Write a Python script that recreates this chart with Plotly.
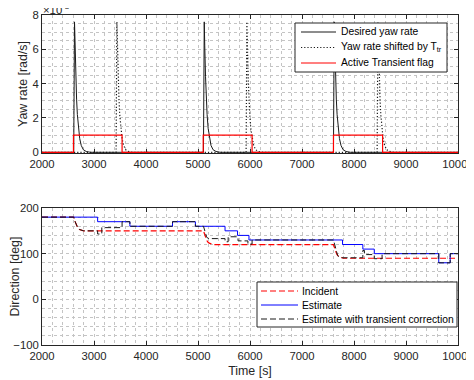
import plotly.graph_objects as go

# ---------------- Top panel data (yaw rate, units of 1e-3 rad/s) ----------------
desired_onsets = [2610, 5105, 7605]          # start of each desired yaw-rate pulse [s]
shifted_onsets = [3425, 5925, 8445]          # same pulse shifted by T_tr [s]
pulse_dt = [0, 15, 25, 40, 55, 70, 90, 115, 145, 185, 240, 320]      # time after onset [s]
pulse_val = [0, 7.6, 6.2, 4.4, 3.1, 2.2, 1.4, 0.8, 0.4, 0.15, 0.05, 0]  # x1e-3 rad/s
flag_t = [2000, 2605, 2605, 3540, 3540, 5100, 5100, 6040, 6040, 7605, 7605, 8550, 8550, 10000]
flag_v = [0, 0, 1, 1, 0, 0, 1, 1, 0, 0, 1, 1, 0, 0]

# ---------------- Bottom panel data (direction, deg) ----------------
incident_t = [2000, 2610, 2630, 2650, 2670, 2690, 2720, 2760, 2800,
              5105, 5125, 5145, 5165, 5185, 5215, 5255, 5300,
              7605, 7625, 7645, 7665, 7685, 7715, 7755, 7800, 10000]
incident_v = [180, 180, 172, 165, 160, 156, 153, 151.5, 150,
              150, 142, 135, 130, 126, 123, 121.5, 120,
              120, 112, 105, 100, 96, 93, 91.5, 90, 90]

estimate_t = [2000, 3070, 3690, 4510, 4950, 5520, 5760, 5980, 7780, 8170, 8390, 9630, 9850, 10000]
estimate_v = [180, 170, 160, 170, 160, 150, 140, 130, 120, 110, 100, 80, 100, 100]

corrected_t = [2000, 2610, 2630, 2650, 2670, 2690, 2720, 2760, 2800, 3070, 3070, 3150, 3150,
               3540, 3540, 3690, 3690, 4510, 4510, 4950, 4950, 5105, 5125, 5145, 5165, 5185,
               5215, 5520, 5520, 5580, 5580, 5770, 5770, 5960, 5960, 6040, 6040, 7605, 7625,
               7645, 7665, 7685, 7715, 7760, 8170, 8170, 8200, 8200, 8390, 8390, 8540, 8540,
               9630, 9630, 9850, 9850, 10000]
corrected_v = [180, 180, 172, 165, 160, 156, 153, 151.5, 150, 150, 143, 143, 157,
               157, 170, 170, 160, 160, 170, 170, 160, 160, 150, 142, 137, 134,
               133, 133, 126, 126, 137, 137, 128, 128, 121, 121, 130, 130, 122,
               110, 101, 96, 93, 91, 91, 107, 107, 98, 98, 89, 89, 100,
               100, 80, 80, 100, 100]

x_ticks = [2000, 3000, 4000, 5000, 6000, 7000, 8000, 9000, 10000]
x_tick_labels = ["2000", "3000", "4000", "5000", "6000", "7000", "8000", "9000", "10000"]
top_y_ticks = [0, 2, 4, 6, 8]
bot_y_ticks = [-100, 0, 100, 200]

top_legend_labels = ["Desired yaw rate", "Yaw rate shifted by T<sub>tr</sub>", "Active Transient flag"]
bot_legend_labels = ["Incident", "Estimate", "Estimate with transient correction"]


def pulses(onsets):
    t, v = [2000], [0]
    for t0 in onsets:
        t += [t0 + d for d in pulse_dt]
        v += pulse_val
    t.append(10000)
    v.append(0)
    return t, v


des_t, des_v = pulses(desired_onsets)
sh_t, sh_v = pulses(shifted_onsets)

FONT = "Liberation Sans, Arial, sans-serif"
AX = "#262626"
GRID = "#c4c4c4"
OFF = 8                      # page body margin: figure is drawn 8 px in from the window corner
W, H = 474 - OFF, 380 - OFF  # figure size that exactly fills the window


def px(x):   # window pixel -> paper x
    return (x - OFF) / W


def py(y):   # window pixel -> paper y
    return 1 - (y - OFF) / H


# line styles (shared by traces and legend samples)
st_desired = dict(color="#1a1a1a", width=1)
st_shifted = dict(color="#1a1a1a", width=1.2, dash="1.2px,2px")
st_flag = dict(color="#ff0000", width=1.2)
st_incident = dict(color="#ff0000", width=1.2, dash="6px,3px")
st_estimate = dict(color="#0000ff", width=1)
st_corrected = dict(color="#1a1a1a", width=1, dash="6px,3px")

fig = go.Figure()
fig.add_trace(go.Scatter(x=des_t, y=des_v, mode="lines", name=top_legend_labels[0],
                         line=st_desired, xaxis="x", yaxis="y", showlegend=False))
fig.add_trace(go.Scatter(x=sh_t, y=sh_v, mode="lines", name=top_legend_labels[1],
                         line=st_shifted, xaxis="x", yaxis="y", showlegend=False))
fig.add_trace(go.Scatter(x=flag_t, y=flag_v, mode="lines", name=top_legend_labels[2],
                         line=st_flag, xaxis="x", yaxis="y", showlegend=False))
fig.add_trace(go.Scatter(x=incident_t, y=incident_v, mode="lines", name=bot_legend_labels[0],
                         line=st_incident, xaxis="x2", yaxis="y2", showlegend=False))
fig.add_trace(go.Scatter(x=estimate_t, y=estimate_v, mode="lines", name=bot_legend_labels[1],
                         line_shape="hv", line=st_estimate, xaxis="x2", yaxis="y2", showlegend=False))
fig.add_trace(go.Scatter(x=corrected_t, y=corrected_v, mode="lines", name=bot_legend_labels[2],
                         line=st_corrected, xaxis="x2", yaxis="y2", showlegend=False))

axis_common = dict(
    showline=True, linecolor=AX, linewidth=1, mirror="ticks",
    ticks="inside", ticklen=4, tickcolor=AX, tickwidth=1,
    tickfont=dict(family=FONT, size=11.3, color=AX),
    showgrid=True, gridcolor=GRID, griddash="dot", gridwidth=1,
    zeroline=False, automargin=False,
)
minor_x = dict(dtick=200, showgrid=True, gridcolor=GRID, griddash="dot", ticks="")
title_font = dict(family=FONT, size=12.4, color=AX)

xd = [px(42), px(458)]
fig.update_layout(
    template="none",
    width=W, height=H,
    margin=dict(l=0, r=0, t=0, b=0),
    paper_bgcolor="white", plot_bgcolor="white",
    font=dict(family=FONT, color=AX),
    showlegend=False,
    xaxis=dict(domain=xd, anchor="y", range=[2000, 10000], tickvals=x_ticks, ticktext=x_tick_labels,
               minor=minor_x, layer="below traces", **axis_common),
    yaxis=dict(domain=[py(153), py(15)], anchor="x", range=[-0.04, 8], tickvals=top_y_ticks,
               minor=dict(dtick=0.5, showgrid=True, gridcolor=GRID, griddash="dot", ticks=""),
               title=dict(text="Yaw rate [rad/s]", font=title_font, standoff=2),
               **axis_common),
    xaxis2=dict(domain=xd, anchor="y2", range=[2000, 10000], tickvals=x_ticks, ticktext=x_tick_labels,
                minor=minor_x,
                title=dict(text="Time [s]", font=title_font, standoff=5),
                **axis_common),
    yaxis2=dict(domain=[py(345), py(208)], anchor="x2", range=[-100, 200], tickvals=bot_y_ticks,
                minor=dict(dtick=20, showgrid=True, gridcolor=GRID, griddash="dot", ticks=""),
                title=dict(text="Direction [deg]", font=title_font, standoff=12),
                **axis_common),
)

shapes = []
annotations = [dict(text="×10<sup>-3</sup>", x=px(41), y=py(18), xref="paper", yref="paper",
                    xanchor="left", yanchor="bottom", showarrow=False,
                    font=dict(family=FONT, size=11.3, color=AX))]


def add_legend(box, rows_y, line_x, text_x, labels, styles):
    x0, y0, x1, y1 = box
    shapes.append(dict(type="rect", xref="paper", yref="paper",
                       x0=px(x0), x1=px(x1), y0=py(y1), y1=py(y0),
                       line=dict(color=AX, width=1), fillcolor="white", layer="above"))
    for ry, lab, st in zip(rows_y, labels, styles):
        shapes.append(dict(type="line", xref="paper", yref="paper",
                           x0=px(line_x[0]), x1=px(line_x[1]), y0=py(ry), y1=py(ry),
                           line=st, layer="above"))
        annotations.append(dict(text=lab, x=px(text_x), y=py(ry), xref="paper", yref="paper",
                                xanchor="left", yanchor="middle", showarrow=False,
                                font=dict(family=FONT, size=10.3, color="#000000")))


add_legend((295, 23, 447, 72), [32, 47.5, 63], (301, 336), 339,
           top_legend_labels, [st_desired, st_shifted, st_flag])
add_legend((257, 282, 457, 327), [291, 305, 319], (261, 298), 300,
           bot_legend_labels, [st_incident, st_estimate, st_corrected])

fig.update_layout(shapes=shapes, annotations=annotations)

fig.write_html("out.html")
